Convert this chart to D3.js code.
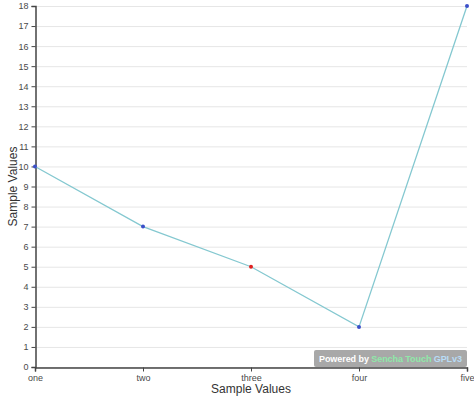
<!DOCTYPE html>
<html>
<head>
<meta charset="utf-8">
<script src="https://cdn.jsdelivr.net/npm/d3@7"></script>
<style>
  body { margin: 0; background: #fff; }
  svg { font-family: "Liberation Sans", Arial, sans-serif; }
</style>
</head>
<body>
<svg id="chart"></svg>
<script>
// chart data
const categories = ["one", "two", "three", "four", "five"];
const values = [10, 7, 5, 2, 18];
const markerColors = ["#3b4fc9", "#3b4fc9", "#e02020", "#3b4fc9", "#3b4fc9"];
const yTicks = d3.range(0, 19);

const width = 474;
const height = 400;
const margin = { top: 6, right: 7, bottom: 33, left: 35 };

const svg = d3.select("#chart")
              .attr("width", width)
              .attr("height", height);

const x = d3.scalePoint()
            .domain(categories)
            .range([margin.left, width - margin.right]);

const y = d3.scaleLinear()
            .domain([0, 18])
            .range([height - margin.bottom, margin.top]);

// horizontal grid
svg.append("g")
   .selectAll("line")
   .data(yTicks)
   .enter().append("line")
   .attr("x1", margin.left)
   .attr("x2", width - margin.right)
   .attr("y1", d => y(d) + 0.5)
   .attr("y2", d => y(d) + 0.5)
   .attr("stroke", "#e6e6e6")
   .attr("stroke-width", 1);

// y axis
const yAxis = svg.append("g")
   .attr("transform", `translate(${margin.left + 0.5},0)`)
   .call(d3.axisLeft(y).tickValues(yTicks).tickSize(4).tickPadding(3));

// x axis
const xAxis = svg.append("g")
   .attr("transform", `translate(0,${height - margin.bottom + 0.5})`)
   .call(d3.axisBottom(x).tickSize(4).tickPadding(3));

[yAxis, xAxis].forEach(a => {
  a.select(".domain").attr("stroke", "#444").attr("stroke-width", 1.5);
  a.selectAll(".tick line").attr("stroke", "#444");
  a.selectAll(".tick text")
   .attr("fill", "#4a4a4a")
   .style("font-size", "9px")
   .style("font-family", "Liberation Sans, Arial, sans-serif");
});

// axis titles
svg.append("text")
   .attr("x", (margin.left + width - margin.right) / 2)
   .attr("y", height - 7)
   .attr("text-anchor", "middle")
   .attr("fill", "#333")
   .style("font-size", "12px")
   .text("Sample Values");

svg.append("text")
   .attr("transform", `translate(17,${(margin.top + height - margin.bottom) / 2}) rotate(-90)`)
   .attr("text-anchor", "middle")
   .attr("fill", "#333")
   .style("font-size", "12px")
   .text("Sample Values");

// line
const line = d3.line()
               .x((d, i) => x(categories[i]))
               .y(d => y(d));

svg.append("path")
   .datum(values)
   .attr("d", line)
   .attr("fill", "none")
   .attr("stroke", "#84c8d0")
   .attr("stroke-width", 1.3);

// markers
svg.append("g")
   .selectAll("circle")
   .data(values)
   .enter().append("circle")
   .attr("cx", (d, i) => x(categories[i]))
   .attr("cy", d => y(d))
   .attr("r", 2)
   .attr("fill", (d, i) => markerColors[i]);

// watermark
const wm = svg.append("g")
   .attr("transform", `translate(${width - margin.right - 153},${height - margin.bottom - 17})`);

wm.append("rect")
  .attr("width", 153)
  .attr("height", 17)
  .attr("rx", 2)
  .attr("fill", "#a8a8a8");

const wmText = wm.append("text")
  .attr("x", 5)
  .attr("y", 12)
  .attr("textLength", 143)
  .attr("lengthAdjust", "spacing")
  .style("font-size", "9px")
  .style("font-weight", "bold");
wmText.append("tspan").attr("fill", "#fff").text("Powered by ");
wmText.append("tspan").attr("fill", "#8fe8a8").text("Sencha Touch ");
wmText.append("tspan").attr("fill", "#b8dcf6").text("GPLv3");
</script>
</body>
</html>
